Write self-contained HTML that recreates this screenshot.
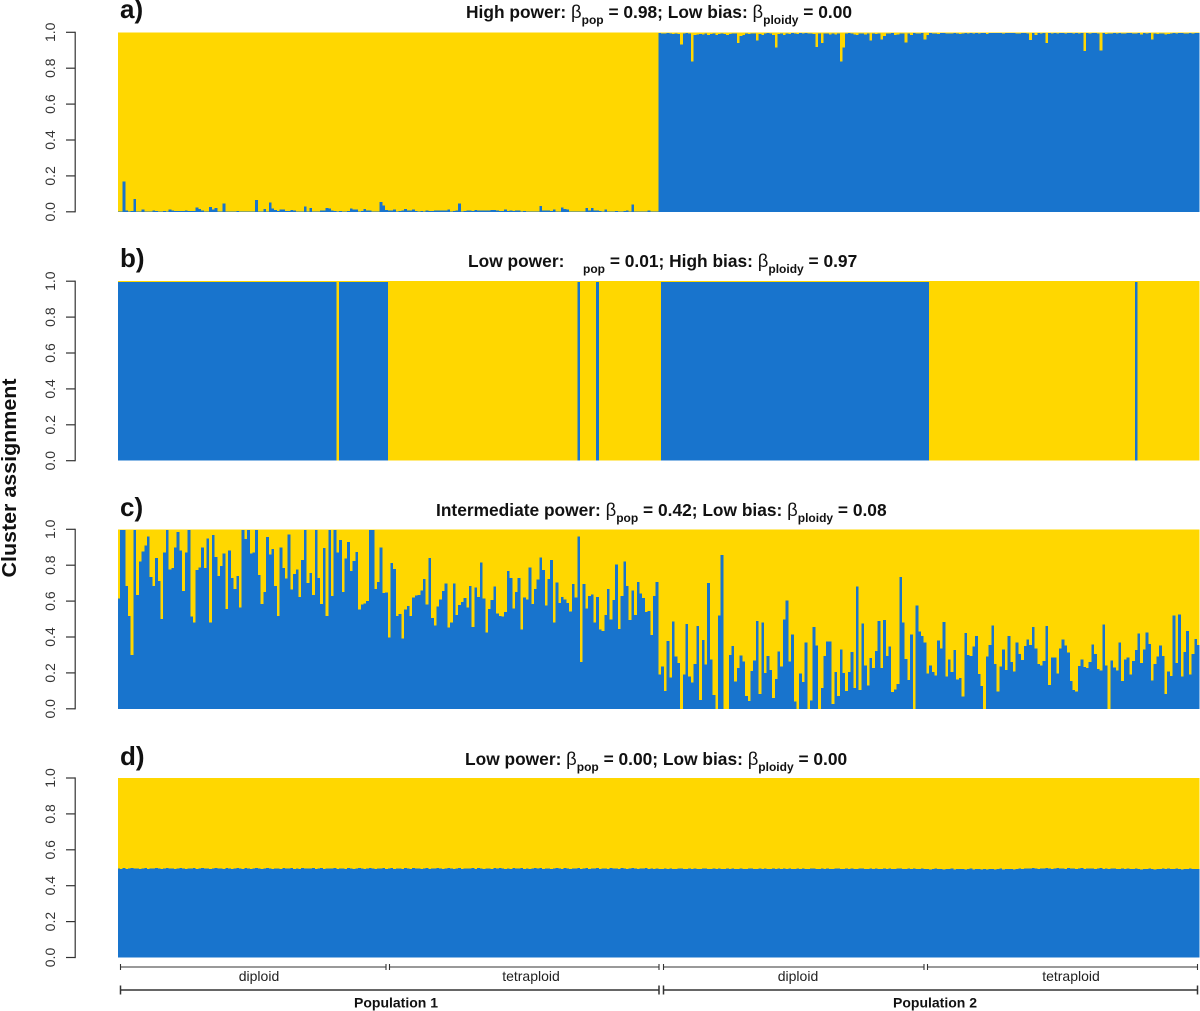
<!DOCTYPE html>
<html lang="en">
<head>
<meta charset="utf-8">
<title>Cluster assignment bar plots</title>
<style>
html,body{margin:0;padding:0;background:#fff;}
svg{display:block;font-family:"Liberation Sans",Arial,sans-serif;}
.ttl{font-size:17.35px;font-weight:bold;fill:#111;}
.beta{font-weight:normal;font-size:18.4px;}
.sub{font-size:12px;}
.ltr{font-size:26px;font-weight:bold;fill:#111;}
.tick{font-size:14px;fill:#333;}
.grp{font-size:14px;fill:#222;}
.pop{font-size:14px;font-weight:bold;fill:#111;}
.br{stroke:#333;fill:none;}
.bars rect{shape-rendering:crispEdges;}
</style>
</head>
<body>
<svg id="chart" xmlns="http://www.w3.org/2000/svg" width="1200" height="1011" viewBox="0 0 1200 1011">
  <defs><clipPath id="plot-clip"><rect x="118" y="0" width="1082" height="1011"/></clipPath></defs>
  <rect x="0" y="0" width="1200" height="1011" fill="#fff"/>
  <text transform="translate(16,478) rotate(-90)" text-anchor="middle" font-size="20" font-weight="bold" fill="#111" textLength="199" lengthAdjust="spacingAndGlyphs">Cluster assignment</text>

  <text class="ltr" x="120" y="18">a)</text>
  <text class="ttl" x="466" y="18">High power: <tspan class="beta">β</tspan><tspan class="sub" dy="6">pop</tspan><tspan dy="-6"> = 0.98; Low bias: </tspan><tspan class="beta">β</tspan><tspan class="sub" dy="6">ploidy</tspan><tspan dy="-6"> = 0.00</tspan></text>

  <text class="ltr" x="120" y="267">b)</text>
  <text class="ttl" x="468" y="267">Low power:<tspan class="sub" x="583" dy="6">pop</tspan><tspan dy="-6"> = 0.01; High bias: </tspan><tspan class="beta">β</tspan><tspan class="sub" dy="6">ploidy</tspan><tspan dy="-6"> = 0.97</tspan></text>

  <text class="ltr" x="120" y="516">c)</text>
  <text class="ttl" x="436" y="516">Intermediate power: <tspan class="beta">β</tspan><tspan class="sub" dy="6">pop</tspan><tspan dy="-6"> = 0.42; Low bias: </tspan><tspan class="beta">β</tspan><tspan class="sub" dy="6">ploidy</tspan><tspan dy="-6"> = 0.08</tspan></text>

  <text class="ltr" x="120" y="765">d)</text>
  <text class="ttl" x="465" y="765">Low power: <tspan class="beta">β</tspan><tspan class="sub" dy="6">pop</tspan><tspan dy="-6"> = 0.00; Low bias: </tspan><tspan class="beta">β</tspan><tspan class="sub" dy="6">ploidy</tspan><tspan dy="-6"> = 0.00</tspan></text>

  <g id="panels"></g>

  <g class="br" stroke-width="1.1">
    <path d="M120.5 964V970M120.5 967H386M386 964V970"/>
    <path d="M389.5 964V970M389.5 967H659M659 964V970"/>
    <path d="M663.5 964V970M663.5 967H924M924 964V970"/>
    <path d="M927.5 964V970M927.5 967H1197.5M1197.5 964V970"/>
  </g>
  <g class="br" stroke-width="1.5">
    <path d="M120.5 985.5V994.5M120.5 990H659M659 985.5V994.5"/>
    <path d="M663.5 985.5V994.5M663.5 990H1197.5M1197.5 985.5V994.5"/>
  </g>
  <text class="grp" x="259" y="981" text-anchor="middle">diploid</text>
  <text class="grp" x="531" y="981" text-anchor="middle">tetraploid</text>
  <text class="grp" x="798" y="981" text-anchor="middle">diploid</text>
  <text class="grp" x="1071" y="981" text-anchor="middle">tetraploid</text>
  <text class="pop" x="396" y="1007.5" text-anchor="middle">Population 1</text>
  <text class="pop" x="935" y="1007.5" text-anchor="middle">Population 2</text>
</svg>
<script>
const tickLabels = ["0.0","0.2","0.4","0.6","0.8","1.0"];
const tickValues = [0,0.2,0.4,0.6,0.8,1];
const panelNames = ["a","b","c","d"];

const panelAValues = [
.002,.002,.17,.006,.002,.004,.072,.001,.002,.013,.001,.002,.002,.006,.004,.001,.002,.004,.002,.014,
.006,.004,.004,.005,.004,.006,.005,.005,.004,.023,.015,.008,.002,.002,.028,.014,.02,.002,.001,.047,
.002,.001,.003,.001,.004,.002,.002,.003,.001,.001,.002,.065,.003,.002,.016,.003,.052,.018,.01,.004,
.014,.014,.004,.005,.01,.008,.002,.001,.002,.03,.003,.022,.002,.001,.003,.006,.006,.02,.018,.006,
.004,.002,.004,.002,.001,.004,.018,.012,.012,.003,.004,.016,.006,.008,.003,.002,.002,.055,.036,.01,
.007,.006,.012,.002,.004,.008,.015,.008,.006,.012,.004,.002,.004,.003,.006,.004,.005,.006,.008,.006,
.007,.006,.012,.003,.005,.007,.045,.002,.004,.006,.006,.005,.01,.006,.007,.008,.006,.007,.01,.009,
.006,.005,.004,.012,.004,.006,.004,.008,.006,.003,.004,.002,.002,.003,.002,.003,.033,.008,.006,.007,
.005,.012,.003,.002,.024,.015,.012,.002,.003,.002,.002,.003,.002,.02,.008,.02,.006,.008,.004,.003,
.012,.003,.001,.002,.004,.003,.003,.004,.008,.003,.042,.002,.001,.002,.003,.002,.008,.002,.001,.001,
.996,.994,.992,.995,.993,.99,.993,.99,.933,.992,.996,.992,.836,.985,.988,.99,.988,.993,.985,.99,
.992,.985,.99,.993,.99,.985,.99,.992,.993,.94,.98,.985,.992,.99,.993,.992,.953,.99,.985,.992,
.995,.993,.985,.916,.99,.992,.985,.992,.99,.995,.993,.99,.996,.993,.995,.992,.993,.99,.918,.992,
.94,.992,.993,.988,.993,.988,.992,.836,.916,.992,.995,.993,.988,.985,.992,.993,.988,.992,.953,.993,
.99,.992,.96,.98,.992,.993,.995,.985,.988,.993,.992,.944,.993,.985,.995,.993,.992,.995,.96,.985,
.996,.993,.992,.99,.995,.996,.994,.992,.993,.995,.992,.99,.994,.996,.992,.995,.993,.996,.994,.995,
.995,.99,.996,.995,.997,.995,.996,.994,.996,.995,.997,.996,.994,.992,.996,.995,.994,.957,.995,.985,
.996,.994,.995,.94,.995,.994,.996,.992,.995,.996,.993,.995,.996,.994,.995,.992,.995,.896,.995,.994,
.996,.995,.993,.9,.995,.99,.993,.994,.996,.994,.995,.993,.994,.996,.995,.992,.994,.995,.988,.995,
.994,.996,.96,.993,.99,.994,.993,.988,.99,.993,.995,.994,.996,.995,.994,.992,.995,.994,.996,.995
];

const panelBValues = [
.996,.996,.996,.996,.996,.996,.996,.996,.996,.996,.996,.996,.996,.996,.996,.996,.996,.996,.996,.996,
.996,.996,.996,.996,.996,.996,.996,.996,.996,.996,.996,.996,.996,.996,.996,.996,.996,.996,.996,.996,
.996,.996,.996,.996,.996,.996,.996,.996,.996,.996,.996,.996,.996,.996,.996,.996,.996,.996,.996,.996,
.996,.996,.996,.996,.996,.996,.996,.996,.996,.996,.996,.996,.996,.996,.996,.996,.996,.996,.996,.996,
.996,.002,.996,.996,.996,.996,.996,.996,.996,.996,.996,.996,.996,.996,.996,.996,.996,.996,.996,.996,
.001,.001,.001,.001,.001,.001,.001,.001,.001,.001,.001,.001,.001,.001,.001,.001,.001,.001,.001,.001,
.001,.001,.001,.001,.001,.001,.001,.001,.001,.001,.001,.001,.001,.001,.001,.001,.001,.001,.001,.001,
.001,.001,.001,.001,.001,.001,.001,.001,.001,.001,.001,.001,.001,.001,.001,.001,.001,.001,.001,.001,
.001,.001,.001,.001,.001,.001,.001,.001,.001,.001,.995,.001,.001,.001,.001,.001,.001,.995,.001,.001,
.001,.001,.001,.001,.001,.001,.001,.001,.001,.001,.001,.001,.001,.001,.001,.001,.001,.001,.001,.001,
.001,.996,.996,.996,.996,.996,.996,.996,.996,.996,.996,.996,.996,.996,.996,.996,.996,.996,.996,.996,
.996,.996,.996,.996,.996,.996,.996,.996,.996,.996,.996,.996,.996,.996,.996,.996,.996,.996,.996,.996,
.996,.996,.996,.996,.996,.996,.996,.996,.996,.996,.996,.996,.996,.996,.996,.996,.996,.996,.996,.996,
.996,.996,.996,.996,.996,.996,.996,.996,.996,.996,.996,.996,.996,.996,.996,.996,.996,.996,.996,.996,
.996,.996,.996,.996,.996,.996,.996,.996,.996,.996,.996,.996,.996,.996,.996,.996,.996,.996,.996,.996,
.001,.001,.001,.001,.001,.001,.001,.001,.001,.001,.001,.001,.001,.001,.001,.001,.001,.001,.001,.001,
.001,.001,.001,.001,.001,.001,.001,.001,.001,.001,.001,.001,.001,.001,.001,.001,.001,.001,.001,.001,
.001,.001,.001,.001,.001,.001,.001,.001,.001,.001,.001,.001,.001,.001,.001,.001,.001,.001,.001,.001,
.001,.001,.001,.001,.001,.001,.001,.001,.001,.001,.001,.001,.001,.001,.001,.001,.995,.001,.001,.001,
.001,.001,.001,.001,.001,.001,.001,.001,.001,.001,.001,.001,.001,.001,.001,.001,.001,.001,.001,.001
];

const panelCValues = [
.615,.995,.995,.683,.517,.30,.995,.633,.82,.875,.91,.96,.735,.683,.84,.713,.50,.87,.995,.776,
.785,.90,.985,.883,.655,.872,.995,.513,.48,.772,.787,.90,.785,.95,.48,.967,.846,.74,.795,.865,
.555,.883,.73,.668,.74,.565,.995,.945,.995,.865,.87,.995,.745,.583,.65,.957,.86,.89,.683,.518,
.90,.785,.726,.97,.665,.75,.776,.624,.83,.995,.70,.757,.635,.995,.73,.583,.896,.518,.995,.628,
.995,.87,.94,.652,.837,.93,.768,.824,.874,.554,.58,.587,.60,.995,.995,.668,.707,.898,.646,.648,
.398,.813,.78,.518,.528,.393,.554,.572,.517,.62,.632,.633,.66,.724,.58,.84,.505,.465,.57,.61,
.655,.698,.452,.48,.698,.522,.578,.596,.618,.565,.683,.455,.676,.624,.815,.615,.424,.557,.606,.68,
.53,.518,.513,.54,.767,.73,.56,.65,.73,.443,.62,.61,.787,.583,.667,.72,.844,.772,.576,.722,
.83,.48,.705,.59,.624,.61,.59,.543,.696,.62,.96,.26,.695,.56,.628,.637,.48,.624,.443,.433,
.522,.667,.498,.606,.805,.444,.628,.822,.683,.494,.66,.522,.707,.643,.618,.54,.546,.41,.628,.707,
.19,.237,.10,.378,.174,.485,.29,.254,0,.19,.472,.18,.146,.25,.46,.05,.383,.248,.70,.276,
.078,0,.52,.857,0,0,.30,.35,.152,.226,.296,.263,.072,.044,.21,.268,.489,.083,.48,.20,
.294,.217,.06,.167,.32,.235,.498,.604,.263,.413,.04,0,.196,.15,.37,0,.046,.456,.352,0,
.117,.294,.374,.376,.028,.204,.07,.33,.20,.10,.204,.317,.115,.68,.105,.474,.24,.13,.283,.226,
.322,.49,.226,.496,.294,.348,.093,.107,.137,.735,.48,.278,.16,.415,0,.576,.43,
.405,.368,.198,.24,.204,.185,.381,.335,.483,.181,
.276,.204,.328,.163,.172,.069,.422,.30,.293,.346,
.405,.193,.128,0,.291,.356,.465,.25,.096,.235,
.331,.215,.405,.261,.207,.37,.306,.272,.35,.385,
.356,.456,.337,.25,.241,.267,.461,.133,.287,.285,
.196,.335,.385,.354,.315,.154,.106,.096,.239,.274,
.233,.228,.261,.357,.306,.222,.213,.47,.241,0,
.27,.23,.213,.37,.156,.276,.285,.191,.265,.328,
.419,.254,.331,.426,.361,.159,.25,.291,.352,.294,
.083,.209,.183,.519,.256,.524,.18,.317,.433,.191,
.304,.389,.356
];

const panelDValues = [
.495,.494,.498,.493,.496,.499,.495,.497,.493,.496,.498,.494,.496,.495,.499,.497,.494,.496,.498,.495,
.496,.494,.497,.499,.496,.493,.497,.495,.498,.494,.496,.499,.497,.495,.493,.496,.498,.495,.497,.494,
.498,.496,.493,.497,.499,.495,.494,.498,.496,.493,.495,.498,.497,.494,.496,.499,.495,.493,.497,.496,
.494,.498,.495,.497,.499,.494,.496,.493,.498,.495,.497,.496,.499,.494,.495,.498,.493,.497,.496,.495,
.499,.494,.497,.496,.493,.498,.495,.494,.497,.499,.496,.493,.495,.498,.497,.494,.496,.495,.499,.493,
.496,.498,.494,.497,.495,.493,.499,.496,.494,.498,.495,.497,.493,.496,.499,.494,.497,.495,.498,.496,
.493,.495,.499,.497,.494,.496,.498,.493,.495,.497,.496,.499,.494,.498,.495,.493,.497,.496,.494,.499,
.495,.498,.496,.493,.497,.494,.499,.495,.496,.498,.493,.497,.494,.496,.499,.495,.498,.493,.496,.497,
.494,.495,.498,.496,.493,.499,.497,.494,.495,.496,.498,.493,.497,.499,.494,.496,.495,.498,.493,.496,
.497,.494,.499,.495,.496,.493,.498,.497,.494,.495,.499,.496,.493,.497,.495,.498,.494,.496,.493,.495,
.494,.492,.495,.493,.496,.494,.492,.495,.497,.493,.494,.496,.492,.495,.493,.494,.497,.495,.492,.494,
.496,.493,.495,.492,.494,.497,.493,.495,.494,.492,.496,.494,.493,.495,.497,.492,.494,.496,.493,.495,
.492,.494,.496,.493,.495,.494,.497,.492,.495,.493,.494,.496,.492,.495,.494,.493,.497,.495,.492,.494,
.495,.493,.496,.494,.492,.495,.497,.493,.494,.496,.492,.495,.493,.494,.496,.495,.492,.494,.497,.493,
.495,.492,.494,.496,.493,.495,.494,.492,.497,.495,.493,.494,.496,.492,.495,.494,.493,.496,.492,.494,
.491,.493,.495,.492,.494,.491,.493,.492,.495,.491,.493,.494,.492,.49,.493,.495,.491,.492,.494,.49,
.493,.491,.494,.492,.49,.493,.495,.491,.492,.494,.493,.49,.492,.495,.494,.496,.497,.495,.498,.496,
.494,.497,.495,.498,.496,.494,.497,.499,.495,.496,.494,.498,.495,.497,.493,.496,.498,.494,.496,.495,
.497,.493,.495,.498,.494,.496,.493,.495,.497,.494,.492,.495,.493,.496,.494,.492,.495,.493,.491,.494,
.492,.495,.493,.491,.494,.492,.495,.493,.496,.494,.492,.495,.493,.491,.494,.492,.495,.493,.494,.492
];

const panelSeries = [panelAValues, panelBValues, panelCValues, panelDValues];
const panelTops = [32.3, 281.2, 529.3, 778];

const SVGNS = "http://www.w3.org/2000/svg";
const plotLeft = 117.2;
const plotRight = 1199.7;
const plotHeight = 179.5;
const axisX = 75.2;
const tickLeft = 66;
const labelBaselineX = 55;
const yellow = "#FFD700";
const blue = "#1874CD";

function yScale(panelTop, value) {
  return panelTop + plotHeight * (1 - value);
}
function xScale(index, count) {
  return plotLeft + index * (plotRight - plotLeft) / count;
}
function makeEl(tag, parent) {
  const el = document.createElementNS(SVGNS, tag);
  parent.appendChild(el);
  return el;
}
function setAll(el, props) {
  Object.keys(props).forEach(function (k) { el.setAttribute(k, props[k]); });
}

const panelsRoot = document.getElementById("panels");
panelNames.forEach(function (name, p) {
  const top = panelTops[p];
  const values = panelSeries[p];
  const group = makeEl("g", panelsRoot);
  
  

  const axis = makeEl("g", group);
  
  
  const axisLine = makeEl("line", axis);
  
  
  setAll(axisLine, {x1: axisX, x2: axisX, y1: yScale(top, 1) - 0.6, y2: yScale(top, 0) + 0.6, stroke: "#333", "stroke-width": 1.2});

  tickValues.forEach(function (tv, t) {
    const y = yScale(top, tv);
    const tick = makeEl("line", axis);
    
    
    setAll(tick, {x1: tickLeft, x2: axisX, y1: y, y2: y, stroke: "#333", "stroke-width": 1.2});
    const label = makeEl("text", axis);
    
    
    setAll(label, {"class": "tick", "text-anchor": "middle", transform: "translate(" + labelBaselineX + "," + y + ") rotate(-90)"});
    label.textContent = tickLabels[t];
  });

  const bars = makeEl("g", group);
  
  
  setAll(bars, {"class": "bars", "clip-path": "url(#plot-clip)"});
  const n = values.length;
  const bw = (plotRight - plotLeft) / n;
  values.forEach(function (v, i) {
    const x = xScale(i, n);
    const yMid = yScale(top, v);
    const upper = makeEl("rect", bars);
    
    
    setAll(upper, {x: x, y: top, width: bw, height: Math.max(0, yMid - top), fill: yellow});
  });
  values.forEach(function (v, i) {
    const x = xScale(i, n);
    const yMid = yScale(top, v);
    const lower = makeEl("rect", bars);
    
    
    setAll(lower, {x: x, y: yMid, width: bw, height: Math.max(0, top + plotHeight - yMid), fill: blue});
  });
});
</script>
</body>
</html>
